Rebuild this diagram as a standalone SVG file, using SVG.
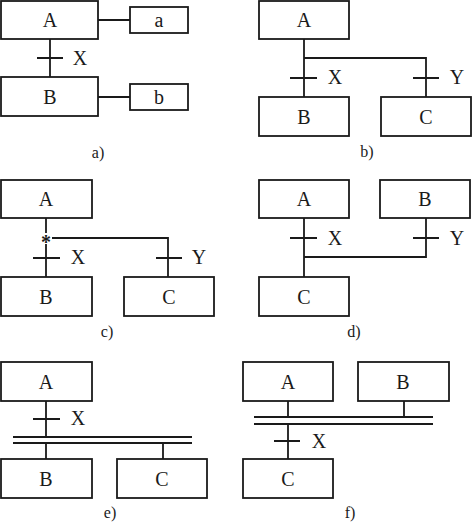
<svg xmlns="http://www.w3.org/2000/svg" width="474" height="526" viewBox="0 0 474 526" font-family="'Liberation Serif', 'DejaVu Serif', serif">
<style>
.box{fill:#fff;stroke:#1a1a1a;stroke-width:1.8}
.ln{fill:none;stroke:#1a1a1a;stroke-width:1.8}
.tk{fill:none;stroke:#1a1a1a;stroke-width:2}
.t{font-family:'Liberation Serif','DejaVu Serif',serif;font-size:20px;text-anchor:middle;fill:#1a1a1a}
.lb{font-family:'Liberation Serif','DejaVu Serif',serif;font-size:16px;text-anchor:middle;fill:#1a1a1a}
.ast{font-family:'Liberation Serif','DejaVu Serif',serif;font-size:20px;text-anchor:middle;fill:#1a1a1a;font-weight:bold}
</style>
<rect width="474" height="526" fill="#fff"/>
<g id="connectors">
<path class="ln" d="M98 20H130M98 97H130M50 39V77"/>
<path class="tk" d="M37 58H63"/>
<path class="ln" d="M304 39V97M304 58H426V97"/>
<path class="tk" d="M290 78H317M413 78H439"/>
<path class="ln" d="M46 218V233M46 244V277M52 238H168V277"/>
<path class="tk" d="M33 258H60M156 258H182"/>
<path class="ln" d="M304 218V277M426 218V257H304"/>
<path class="tk" d="M290 238H317M413 238H439"/>
<path class="ln" d="M46 401V437M13 437H192M13 443H192M46 443V459M163 443V459"/>
<path class="tk" d="M33 419H60"/>
<path class="ln" d="M288 401V417M404 401V417M254 417H433M254 424H433M288 424V459"/>
<path class="tk" d="M274 441H300"/>
</g>
<g id="conn-labels">
<text class="t" x="80" y="65">X</text>
<text class="t" x="335" y="84">X</text>
<text class="t" x="457" y="84">Y</text>
<text class="ast" x="46" y="249">*</text>
<text class="t" x="78" y="264">X</text>
<text class="t" x="199" y="264">Y</text>
<text class="t" x="335" y="245">X</text>
<text class="t" x="457" y="245">Y</text>
<text class="t" x="78" y="425">X</text>
<text class="t" x="319" y="448">X</text>
</g>
<g id="a-A"><rect class="box" x="1" y="1" width="97" height="38"/><text class="t" x="50" y="27">A</text></g>
<g id="a-a"><rect class="box" x="130" y="7" width="58" height="26"/><text class="t" x="159" y="27">a</text></g>
<g id="a-B"><rect class="box" x="1" y="77" width="97" height="39"/><text class="t" x="50" y="104">B</text></g>
<g id="a-b"><rect class="box" x="130" y="84" width="58" height="26"/><text class="t" x="159" y="104">b</text></g>
<text class="lb" x="98" y="158">a)</text>
<g id="b-A"><rect class="box" x="259" y="1" width="90" height="38"/><text class="t" x="304" y="27">A</text></g>
<g id="b-B"><rect class="box" x="259" y="97" width="90" height="39"/><text class="t" x="304" y="124">B</text></g>
<g id="b-C"><rect class="box" x="381" y="97" width="90" height="39"/><text class="t" x="426" y="124">C</text></g>
<text class="lb" x="367" y="157">b)</text>
<g id="c-A"><rect class="box" x="1" y="180" width="91" height="38"/><text class="t" x="46" y="206">A</text></g>
<g id="c-B"><rect class="box" x="1" y="277" width="91" height="39"/><text class="t" x="46" y="304">B</text></g>
<g id="c-C"><rect class="box" x="124" y="277" width="90" height="39"/><text class="t" x="169" y="304">C</text></g>
<text class="lb" x="107" y="337">c)</text>
<g id="d-A"><rect class="box" x="259" y="180" width="90" height="38"/><text class="t" x="304" y="206">A</text></g>
<g id="d-B"><rect class="box" x="380" y="180" width="90" height="38"/><text class="t" x="425" y="206">B</text></g>
<g id="d-C"><rect class="box" x="259" y="277" width="90" height="39"/><text class="t" x="304" y="304">C</text></g>
<text class="lb" x="354" y="337">d)</text>
<g id="e-A"><rect class="box" x="1" y="362" width="91" height="39"/><text class="t" x="46" y="389">A</text></g>
<g id="e-B"><rect class="box" x="1" y="459" width="91" height="39"/><text class="t" x="46" y="486">B</text></g>
<g id="e-C"><rect class="box" x="117" y="459" width="90" height="39"/><text class="t" x="162" y="486">C</text></g>
<text class="lb" x="110" y="518">e)</text>
<g id="f-A"><rect class="box" x="243" y="362" width="90" height="39"/><text class="t" x="288" y="389">A</text></g>
<g id="f-B"><rect class="box" x="358" y="362" width="91" height="39"/><text class="t" x="403" y="389">B</text></g>
<g id="f-C"><rect class="box" x="243" y="459" width="90" height="39"/><text class="t" x="288" y="486">C</text></g>
<text class="lb" x="350" y="518">f)</text>
</svg>
